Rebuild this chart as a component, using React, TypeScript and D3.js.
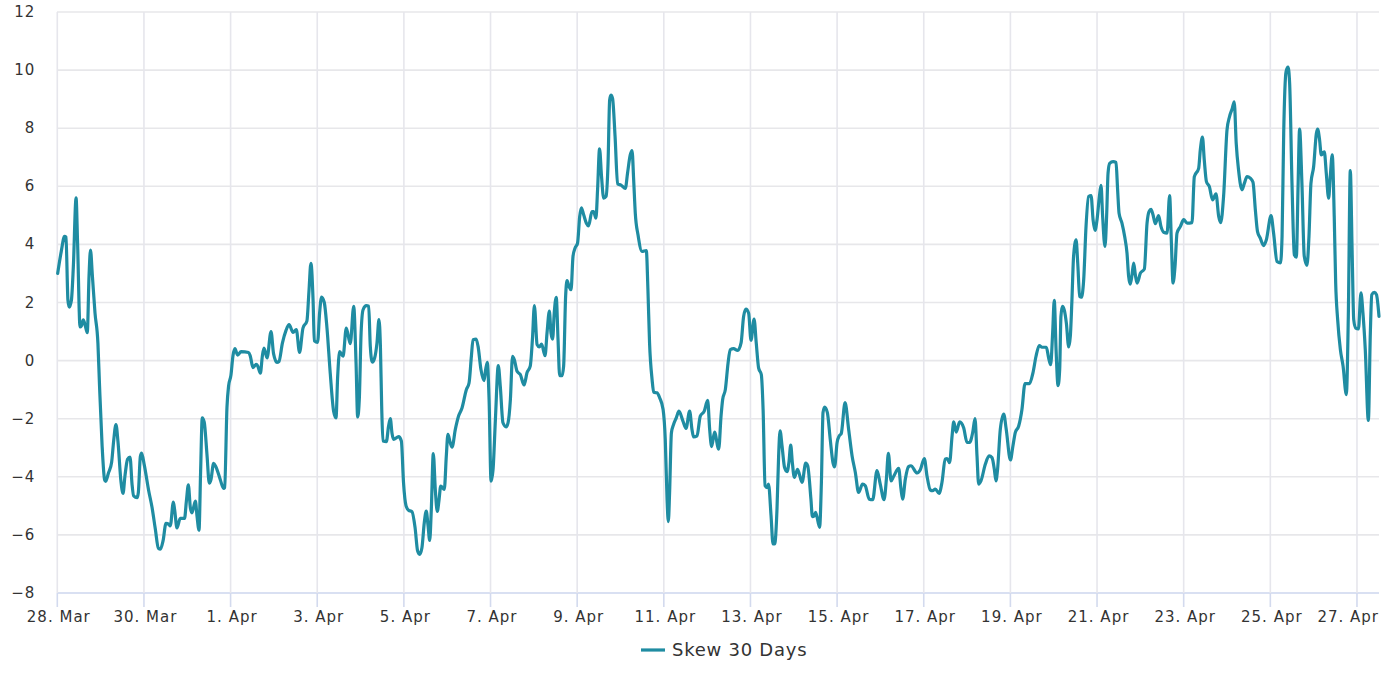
import React from "react";
import * as d3 from "d3";

const seriesName = "Skew 30 Days";
const tickLabels = ["28. Mar","30. Mar","1. Apr","3. Apr","5. Apr","7. Apr","9. Apr","11. Apr","13. Apr","15. Apr","17. Apr","19. Apr","21. Apr","23. Apr","25. Apr","27. Apr"];
const yTicks = [-8,-6,-4,-2,0,2,4,6,8,10,12];

// hours since 28 Mar 00:00
const hours = [
0.2,2.2,4.0,4.8,5.9,6.6,7.8,8.9,10.4,11.2,12.6,13.3,14.4,15.5,16.6,17.6,18.4,19.4,20.9,22.5,23.4,24.8,26.2,26.8,28.3,30.1,31.2,32.5,33.6,35.3,36.4,37.5,38.9,40.3,41.4,42.3,44.2,44.9,46.0,46.7,48.2,50.6,52.5,54.3,56.0,57.1,58.6,60.2,61.7,62.6,64.3,65.0,66.3,68.1,70.5,71.5,72.6,73.7,74.6,76.5,77.4,78.5,79.4,80.3,81.4,82.9,84.2,85.1,86.6,87.9,90.3,92.1,92.7,94.0,94.9,96.2,97.3,98.4,99.9,101.8,106.0,106.9,108.4,110.2,111.0,112.5,113.6,114.5,116.2,118.4,119.8,121.7,122.8,124.7,126.7,128.4,130.6,132.4,134.2,136.1,138.3,139.4,140.5,141.7,142.4,144.2,145.3,146.4,147.9,149.4,151.2,153.1,154.4,155.3,156.4,
158.3,160.1,162.3,164.2,165.5,166.4,167.3,168.3,169.4,171.2,172.5,173.4,174.5,175.8,177.1,178.2,179,179.7,180.4,182.3,183.5,184.5,185.4,186.3,189.1,190.6,191.8,193.2,194.6,196.5,198.2,199.6,200.7,202.0,203.3,204.4,205.4,206.3,207.2,208.3,209.4,210.5,211.5,212.4,214.4,215.5,216.4,217.7,218.7,220.5,222.3,224.2,226.6,228.1,229.4,230.3,232,233.1,234.7,236.4,237.3,238.2,239.2,240.3,241.4,242.7,244.3,245.4,246.9,248.6,249.7,251,252.2,253.2,254.7,256.5,258.6,260.2,262,263.2,264.3,265.8,267,268.3,270.2,271.3,272.6,273.5,274.4,275.3,276.4,277.4,278.3,279.6,280.5,281.6,282.4,283.5,284.6,285.7,286.8,288.2,289.4,290.3,291.6,293.1,294.3,296.2,297.1,298.4,299.3,300.4,301.5,302.7,304,305.1,306,306.7,307.6,309,310.4,312.3,314.7,315.9,317.4,318.4,319.3,320.2,321.7,323.9,326.3,327.2,328.1,329.5,330.4,332.2,333.7,335.6,336.8,337.8,338.5,339.2,340.2,341.4,342.9,344.4,
346.6,348.3,350.3,351.6,352.5,354.4,356.2,358.4,360.3,361.4,362.5,364.1,366.4,367.7,368.6,370.1,371.6,372.8,374.7,376.9,378.8,380.2,381.5,383,384.3,386,387.2,388.5,390,391,392.1,393.2,394,395.4,396.5,397.4,398.7,399.6,400.4,401.5,402.9,404.3,405.3,406.3,407.2,408.3,410.1,412.6,414.6,415.7,417.5,418.3,419.4,420.1,422.3,423.3,424.2,425.1,426.6,428.2,429.7,430.6,432,433.2,434.3,436.4,438.4,440.3,442.1,443.9,446.1,447.6,449.8,451.7,454.1,455.9,458,459.3,460.4,461.9,463.3,466.1,467.4,468.3,469.8,471.6,472.9,476.3,478.1,480.3,481.8,483.6,484.9,486.4,488.5,490.1,491.9,492.9,494.3,495.7,496.6,498,499.9,502.1,504,505.4,507.1,508.4,509.5,510.4,511.7,514.1,516.2,517.8,519.1,520,520.9,522.4,524.3,525.7,528,529.4,530.7,532.6,534.4,
536.1,538.6,540.5,542.2,544,545.5,547.9,549.2,550.3,551.4,552.3,553.3,554.4,555.3,556,556.8,557.9,559,560.3,561.2,562.1,563,564.4,565.3,566.4,567.3,568.6,569.9,571.3,572.7,573.8,574.9,576,577.3,578.2,579.1,580.4,581.3,582.1,583,584.9,586.5,587.4,588.2,589.8,591.3,592.6,593.5,594.4,595.4,596.3,597.2,598.2,600,602.2,603.7,604.8,605.9,607,608.3,610.1,611.4,612.9,614.8,616.2,617.2,618.1,619.2,620.3,622.2,624,625.9,628.6,629.9,632.3,633.2,634.4,635.4,636.6,638.2,640,641.9,643.4,644.5,646.1,648,649.4,650.9,652,653.1,654.4,656.3,657.6,659.1,660.9,662.4,663.7,664.9,666.4,668.3,669.8,672.4,673.8,675.7,677.6,678.5,679.4,680.7,681.8,682.7,684,685.3,686.4,687.4,688.2,689.5,690.8,692.3,693.4,694.5,696,697.5,698.2,699.3,700.2,701.9,703,704.3,705.2,706.3,707.4,708.2,709.3,710.8,712.3,714.1,715.2,716.3,717.3,718.2,719.3,720.8,722.2,723.3,724.6,726.3,727.4,728.2,729.6,730.8,732.2
];

const skew = [
3.0,3.76,4.28,4.25,2.07,1.84,2.07,3.25,5.6,4.13,1.16,1.19,1.4,1.2,0.96,2.95,3.8,2.95,1.63,0.6,-0.87,-2.9,-4.1,-4.16,-3.88,-3.5,-2.78,-2.2,-2.78,-4.18,-4.57,-3.96,-3.4,-3.32,-4.25,-4.66,-4.72,-4.54,-3.3,-3.18,-3.6,-4.47,-5.06,-5.8,-6.46,-6.49,-6.2,-5.6,-5.63,-5.69,-4.87,-5.13,-5.76,-5.43,-5.43,-4.84,-4.28,-5.06,-5.24,-4.84,-5.35,-5.84,-3.8,-1.97,-2.12,-3.22,-4.22,-4.1,-3.54,-3.66,-4.1,-4.4,-4.37,-1.6,-0.87,-0.5,0.16,0.41,0.19,0.31,0.28,0.16,-0.24,-0.13,-0.18,-0.43,0.16,0.43,0.09,1.0,0.24,-0.06,-0.03,0.6,1.04,1.24,0.97,1.07,0.28,1.12,1.37,2.37,3.35,2.07,0.68,0.63,1.63,2.19,2.0,1.12,-0.43,-1.75,-1.97,-0.57,0.31,
0.15,1.12,0.58,1.87,-0.08,-1.94,-1.34,0.95,1.75,1.89,1.87,0.49,-0.05,0.09,0.61,1.41,0.49,-1.57,-2.77,-2.79,-2.26,-2.0,-2.49,-2.71,-2.62,-2.77,-4.2,-5.0,-5.15,-5.2,-5.75,-6.55,-6.67,-6.44,-5.58,-5.18,-5.69,-6.19,-5.12,-3.2,-4.43,-5.19,-4.78,-4.32,-4.43,-3.29,-2.54,-2.83,-2.98,-2.37,-1.91,-1.63,-1.0,-0.77,0.15,0.72,0.74,0.49,-0.31,-0.69,-0.31,-0.06,-1.34,-4.15,-3.75,-2.03,-0.17,-0.88,-2.14,-2.28,-2.14,-1.34,0.15,0.03,-0.37,-0.48,-0.84,-0.42,-0.19,0.72,1.89,0.55,0.47,0.57,0.17,0.95,1.7,0.95,0.74,1.64,2.18,0.72,-0.52,-0.52,-0.19,2.21,2.75,2.55,2.44,3.59,3.87,4.04,4.96,5.26,5.02,4.73,4.64,5.13,5.13,4.9,5.88,7.29,6.33,5.59,5.65,6.79,8.97,9.14,9.03,7.71,6.08,6.04,5.93,6.45,7.08,7.23,6.22,5.07,4.33,3.76,3.79,2.44,0.61,-0.65,-1.09,-1.11,-1.28,-1.68,-2.71,-4.78,-5.54,-4.55,-2.49,-2.2,-1.97,-1.74,
-2.08,-2.33,-1.74,-2.37,-2.63,-2.59,-1.91,-1.74,-1.37,-2.37,-2.96,-2.46,-3.05,-1.91,-1.34,-0.99,-0.08,0.38,0.41,0.35,0.61,1.52,1.77,1.63,0.7,1.43,0.61,-0.25,-0.48,-1.68,-4.31,-4.37,-4.25,-5.34,-6.31,-6.31,-5.11,-3.28,-2.42,-2.94,-3.68,-3.82,-3.51,-2.91,-3.51,-4.02,-3.74,-4.19,-3.53,-3.62,-4.77,-5.37,-5.34,-5.22,-5.74,-4.19,-1.79,-1.6,-1.79,-2.71,-3.51,-3.66,-2.82,-2.59,-2.51,-1.45,-2.37,-3.28,-3.85,-4.54,-4.25,-4.31,-4.77,-4.79,-3.79,-4.25,-4.79,-4.08,-3.19,-4.14,-3.99,-3.71,-4.42,-4.77,-4.08,-3.65,-3.62,-3.87,-3.76,-3.37,-3.97,-4.45,-4.48,-4.42,-4.57,-4.19,-3.39,-3.37,-3.51,-2.59,-2.11,-2.46,-2.11,-2.31,-2.82,-2.82,-2.48,-2.0,-3.28,-4.25,-4.14,-3.57,-3.28,-3.34,-3.74,-4.14,-3.74,-2.37,-1.84,-2.37,-3.42,-2.94,-2.48,-2.25,-1.68,
-0.79,-0.79,-0.42,0.15,0.52,0.46,0.46,0.09,-0.14,0.95,2.07,0.38,-0.86,-0.31,1.52,1.87,1.73,1.29,0.47,0.84,2.1,3.59,4.16,3.36,2.21,2.18,2.78,4.62,5.65,5.68,4.85,4.48,4.85,5.65,6.03,4.96,3.93,4.96,6.45,6.79,6.85,6.82,5.88,5.07,4.73,4.27,3.7,2.9,2.63,2.96,3.36,2.96,2.67,3.01,3.15,4.73,5.13,5.21,5.02,4.71,4.99,4.62,4.42,4.39,5.68,4.04,2.67,3.24,4.39,4.62,4.85,4.73,4.75,6.33,6.62,7.25,7.69,6.91,6.16,5.99,5.53,5.74,4.96,4.75,5.65,7.94,8.4,8.68,8.91,7.48,6.56,5.88,6.1,6.33,6.28,6.14,5.19,4.44,4.22,3.96,4.16,4.99,4.39,3.41,3.36,4.27,7.82,9.94,10.1,9.54,6.1,3.64,3.56,6.1,7.97,6.1,3.59,3.28,4.27,6.1,6.68,7.82,7.97,7.59,7.08,7.19,6.45,5.59,6.33,7.08,4.96,2.67,1.41,0.38,-0.19,-1.17,1.52,6.54,3.81,1.41,1.12,1.09,2.33,1.64,0.38,-2.06,0.95,2.27,2.35,2.27,1.52
];

const HOURS_PER_TICK = 48;
const font = "'DejaVu Sans', sans-serif";

export default function App() {
  const W = 1399, H = 673;
  const x = d3.scaleLinear().domain([0, 732.2]).range([57.3, 1379]);
  const y = d3.scaleLinear().domain([-8, 12]).range([593, 12]);
  const n = Math.min(hours.length, skew.length);
  const pts: [number, number][] = d3.range(n).map((i) => [hours[i], skew[i]]);
  const line = d3.line<[number, number]>().x((d) => x(d[0])).y((d) => y(d[1])).curve(d3.curveMonotoneX);
  const isLast = (i: number) => i === tickLabels.length - 1;
  return (
    <svg width={W} height={H} style={{ position: "absolute", left: 0, top: 0, background: "#fff" }}>
      {yTicks.map((t) => (
        <line key={t} x1={57} x2={1379} y1={y(t)} y2={y(t)} stroke={t === -8 ? "#cdd6ee" : "#e7e7ea"} strokeWidth={1.6} />
      ))}
      {tickLabels.map((l, i) => {
        const px = x(i * HOURS_PER_TICK);
        return (
          <g key={l}>
            <line x1={px} x2={px} y1={12} y2={593} stroke="#e6e6ec" strokeWidth={1.6} />
            <line x1={px} x2={px} y1={593} y2={607} stroke="#d3daee" strokeWidth={1.6} />
            <text x={isLast(i) ? 1379 : px + 1.5} y={622} textAnchor={isLast(i) ? "end" : "middle"} fontFamily={font} fontSize={15} fill="#333" letterSpacing={1}>{l}</text>
          </g>
        );
      })}
      {yTicks.map((t) => (
        <text key={t} x={35} y={y(t) + 5} textAnchor="end" fontFamily={font} fontSize={15} fill="#333" letterSpacing={0.8}>{t < 0 ? "\u2212" + Math.abs(t) : t}</text>
      ))}
      <path d={line(pts) ?? ""} fill="none" stroke="#1f8ca2" strokeWidth={3.2} strokeLinejoin="round" strokeLinecap="round" />
      <line x1={641} x2={665} y1={650} y2={650} stroke="#1f8ca2" strokeWidth={3.2} />
      <text x={672} y={656} fontFamily={font} fontSize={18} fill="#333" letterSpacing={0.75}>{seriesName}</text>
    </svg>
  );
}
